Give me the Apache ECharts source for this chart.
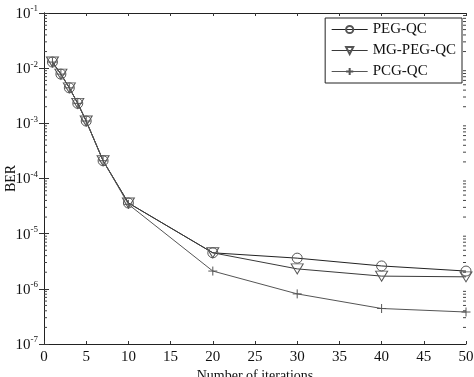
<!DOCTYPE html>
<html>
<head>
<meta charset="utf-8">
<script src="https://cdn.jsdelivr.net/npm/echarts@6/dist/echarts.min.js"></script>
<style>
  html, body { margin: 0; padding: 0; background: #fff; }
  #chart { width: 474px; height: 377px; }
</style>
</head>
<body>
<div id="chart"></div>
<script>
const iterations = [1, 2, 3, 4, 5, 7, 10, 20, 30, 40, 50];
const pegQc = [0.0129, 0.0078, 0.0044, 0.0023, 0.0011, 2.1e-4, 3.6e-5, 4.5e-6, 3.6e-6, 2.6e-6, 2.1e-6];
const mgPegQc = [0.0129, 0.0078, 0.0044, 0.0023, 0.0011, 2.1e-4, 3.6e-5, 4.5e-6, 2.3e-6, 1.7e-6, 1.65e-6];
const pcgQc = [0.0129, 0.0078, 0.0044, 0.0023, 0.0011, 2.1e-4, 3.4e-5, 2.1e-6, 8.1e-7, 4.4e-7, 3.8e-7];

// minor tick values of the log axis (2..9 x 10^e)
const minorTicks = [];
for (let e = -7; e <= -2; e++) {
  for (let m = 2; m <= 9; m++) minorTicks.push(m * Math.pow(10, e));
}

const font = '"Liberation Serif", "DejaVu Serif", serif';
const pair = (ys) => iterations.map((x, i) => [x, ys[i]]);

const chart = echarts.init(document.getElementById('chart'), null, { renderer: 'canvas' });

const xAxisBase = {
  type: 'value',
  min: 0,
  max: 50,
  interval: 5,
  axisLine: { show: true, lineStyle: { color: '#222', width: 1 } },
  axisTick: { show: true, inside: true, length: 3, lineStyle: { color: '#333' } },
  splitLine: { show: false }
};
const yAxisBase = {
  type: 'log',
  logBase: 10,
  min: 1e-7,
  max: 1e-1,
  interval: 1,
  axisLine: { show: true, lineStyle: { color: '#222', width: 1 } },
  axisTick: { show: true, inside: true, length: 5, lineStyle: { color: '#333' } },
  splitLine: { show: false }
};

chart.setOption({
  animation: false,
  backgroundColor: '#fff',
  grid: { left: 44, right: 8, top: 13, bottom: 33, containLabel: false, outerBoundsMode: 'none' },
  legend: {
    orient: 'vertical',
    right: 12,
    top: 18,
    itemWidth: 36,
    itemHeight: 9,
    itemGap: 6,
    padding: [4, 6, 4, 6],
    borderColor: '#222',
    borderWidth: 1,
    backgroundColor: '#fff',
    textStyle: { fontFamily: font, fontSize: 15, color: '#111' },
    lineStyle: { width: 1 },
    data: ['PEG-QC', 'MG-PEG-QC', 'PCG-QC']
  },
  xAxis: [
    Object.assign({}, xAxisBase, {
      position: 'bottom',
      name: 'Number of iterations',
      nameLocation: 'middle',
      nameGap: 25,
      nameMoveOverlap: false,
      nameTextStyle: { fontFamily: font, fontSize: 14, color: '#111' },
      axisLabel: { fontFamily: font, fontSize: 15, color: '#111', margin: 6 }
    }),
    Object.assign({}, xAxisBase, { position: 'top', axisLabel: { show: false } })
  ],
  yAxis: [
    Object.assign({}, yAxisBase, {
      position: 'left',
      name: 'BER',
      nameLocation: 'middle',
      nameGap: 26,
      nameMoveOverlap: false,
      nameRotate: 90,
      nameTextStyle: { fontFamily: font, fontSize: 14, color: '#111' },
      axisLabel: {
        margin: 6,
        formatter: (v) => '{b|10}{s|' + Math.round(Math.log10(v)) + '}',
        rich: {
          b: { fontFamily: font, fontSize: 15, color: '#111', verticalAlign: 'bottom', lineHeight: 16 },
          s: { fontFamily: font, fontSize: 9, color: '#111', verticalAlign: 'top', padding: [0, 0, 8, 0] }
        }
      }
    }),
    Object.assign({}, yAxisBase, { position: 'right', axisLabel: { show: false } })
  ],
  series: [
    {
      name: 'PEG-QC',
      type: 'line',
      data: pair(pegQc),
      symbol: 'circle',
      symbolSize: 10,
      lineStyle: { color: '#222', width: 1 },
      itemStyle: { color: 'rgba(255,255,255,0)', borderColor: '#555', borderWidth: 1 },
      z: 3
    },
    {
      name: 'MG-PEG-QC',
      type: 'line',
      data: pair(mgPegQc),
      symbol: 'triangle',
      symbolRotate: 180,
      symbolSize: [12, 10],
      lineStyle: { color: '#3a3a3a', width: 1 },
      itemStyle: { color: 'rgba(255,255,255,0)', borderColor: '#555', borderWidth: 1 },
      z: 3
    },
    {
      name: 'PCG-QC',
      type: 'line',
      data: pair(pcgQc),
      symbol: 'path://M0,5L10,5M5,0L5,10',
      symbolSize: 9,
      lineStyle: { color: '#555', width: 1 },
      itemStyle: { color: 'rgba(255,255,255,0)', borderColor: '#555', borderWidth: 1 },
      z: 3
    },
    {
      type: 'custom',
      silent: true,
      data: minorTicks.map((v) => [0, v]),
      renderItem: (params, api) => {
        const v = api.value(1);
        const l = api.coord([0, v]);
        const r = api.coord([50, v]);
        return {
          type: 'group',
          children: [
            { type: 'line', shape: { x1: l[0], y1: l[1], x2: l[0] + 3, y2: l[1] }, style: { stroke: '#444', lineWidth: 1 } },
            { type: 'line', shape: { x1: r[0], y1: r[1], x2: r[0] - 3, y2: r[1] }, style: { stroke: '#444', lineWidth: 1 } }
          ]
        };
      },
      z: 1
    }
  ]
});
</script>
</body>
</html>
